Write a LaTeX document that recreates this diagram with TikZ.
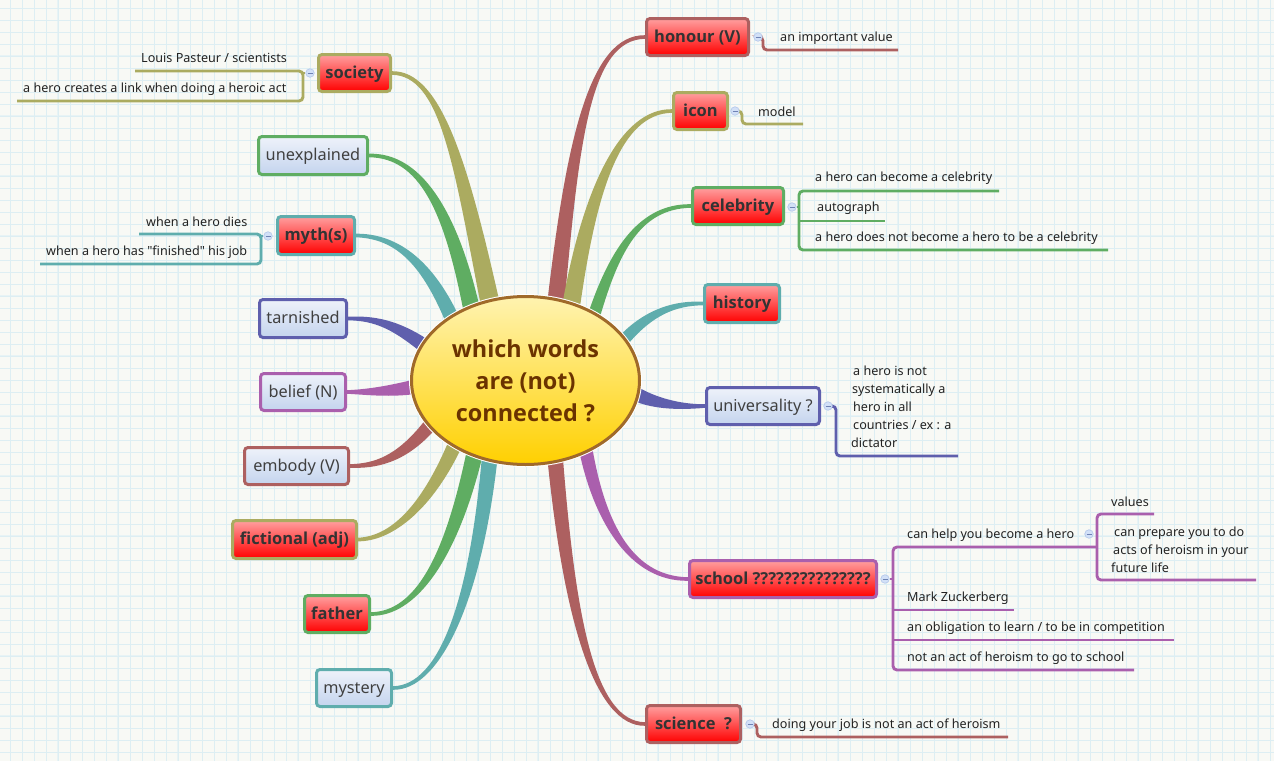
\documentclass[tikz,border=0pt]{standalone}
\usepackage{fontspec}
\setmainfont{Noto Sans}
\newfontfamily\headfont{Open Sans}
\newfontfamily\plainfont{Noto Sans}
\usetikzlibrary{calc,shapes.geometric}
\pgfdeclarelayer{under}
\pgfsetlayers{under,main}
\definecolor{cbg}{HTML}{F8F9F5}
\definecolor{cgrid}{HTML}{DDEEF3}
\definecolor{cgridb}{HTML}{E8F3F5}
\definecolor{cred}{HTML}{AD6060}
\definecolor{colive}{HTML}{ABAB60}
\definecolor{cgreen}{HTML}{5FAD62}
\definecolor{cteal}{HTML}{5FADAD}
\definecolor{cblue}{HTML}{5F5FAD}
\definecolor{cpurple}{HTML}{AA5FAD}
\definecolor{ctext}{HTML}{222222}
\definecolor{rootline}{HTML}{A06A2A}
\definecolor{roottop}{HTML}{FFF3B0}
\definecolor{rootbot}{HTML}{FFD000}
\definecolor{roottext}{HTML}{6B3300}
\definecolor{redtop}{HTML}{FFA0A0}
\definecolor{bluetop}{HTML}{EEF2FA}
\definecolor{bluebot}{HTML}{C4D4EE}
\definecolor{iconline}{HTML}{B7CAEC}
\definecolor{iconfill}{HTML}{D2E0F7}
\definecolor{iconbar}{HTML}{6E82B4}
\tikzset{
  x=1pt,y=-1pt,
  redbox/.style={draw=#1,line width=3pt,rounded corners=3.5pt,inner sep=0pt,top color=redtop,bottom color=red,text=black!80,font=\headfont\fontsize{16.5}{20}\selectfont\bfseries,text height=13pt,text depth=3pt},
  bluebox/.style={draw=#1,line width=3pt,rounded corners=3.5pt,inner sep=0pt,top color=bluetop,bottom color=bluebot,text=black!75,font=\fontsize{16.3}{20}\selectfont,text height=13pt,text depth=3pt},
  rootnode/.style={ellipse,draw=rootline,line width=3pt,inner sep=0pt,minimum width=228pt,minimum height=168pt,top color=roottop,bottom color=rootbot,text=roottext,align=center,font=\headfont\fontsize{23.4}{32}\selectfont\bfseries,preaction={draw=white,line width=5pt}},
  leaf/.style={anchor=west,inner sep=0pt,text=ctext,font=\fontsize{12.6}{18}\selectfont,text height=9.5pt,text depth=3pt,yshift=-1pt},
  leafblock/.style={anchor=north west,inner sep=0pt,text=ctext,font=\fontsize{12.6}{18}\selectfont,align=left},
  sub/.style={draw=#1,line width=2.9pt,rounded corners=4pt},
  foldicon/.style={circle,draw=iconline,fill=iconfill,line width=.7pt,minimum size=8.5pt,inner sep=0pt,
    path picture={\draw[iconbar,line width=.7pt] ([xshift=-2.5pt]path picture bounding box.center) -- ([xshift=2.5pt]path picture bounding box.center);}}
}
% colour, root angle 1, root angle 2, control 1, control 2, node anchor
\newcommand{\taper}[6]{%
  \coordinate (A1) at (root.#2);
  \coordinate (A2) at (root.#3);
  \coordinate (E0) at (#6);
  \fill[#1] (A1) .. controls ($(#4)+0.38*(A1)-0.38*(A2)$) and ($(#5)+(0,-2.6)$) .. ($(E0)+(0,-1.8)$)
     -- ($(E0)+(0,1.8)$) .. controls ($(#5)+(0,2.6)$) and ($(#4)-0.38*(A1)+0.38*(A2)$) .. (A2) -- cycle;
}
\begin{document}
\begin{tikzpicture}
\useasboundingbox (0,0) rectangle (1274,761);
\begin{pgfonlayer}{under}
\fill[cbg] (0,0) rectangle (1274,761);
\foreach \i in {0,...,22} \draw[cgridb,line width=1.8pt] (\i*60-2,0) -- (\i*60-2,761);
\foreach \i in {0,...,13} \draw[cgridb,line width=1.8pt] (0,\i*60-4) -- (1274,\i*60-4);
\foreach \i in {0,...,106} \draw[cgrid,line width=.6pt] (\i*12-2,0) -- (\i*12-2,761);
\foreach \i in {0,...,64} \draw[cgrid,line width=.6pt] (0,\i*12-4) -- (1274,\i*12-4);
\end{pgfonlayer}

\node[rootnode] (root) at (525.5,380.5) {\rule{0pt}{19pt}which words\\are (not)\\connected ?};

\node[redbox=colive,minimum width=72pt,minimum height=37pt] (society) at (354.5,73) {society};
\node[bluebox=cgreen,minimum width=109pt,minimum height=38pt] (unexplained) at (313,155.5) {unexplained};
\node[redbox=cteal,minimum width=77pt,minimum height=38pt] (myth) at (316,235.5) {myth(s)};
\node[bluebox=cblue,minimum width=87pt,minimum height=38pt] (tarnished) at (303,318.5) {tarnished};
\node[bluebox=cpurple,minimum width=85pt,minimum height=37pt] (belief) at (303,392) {belief (N)};
\node[bluebox=cred,minimum width=104pt,minimum height=37pt] (embody) at (296.5,466) {embody (V)};
\node[redbox=colive,minimum width=124pt,minimum height=38pt] (fictional) at (294.5,539.5) {fictional (adj)};
\node[redbox=cgreen,minimum width=65pt,minimum height=37pt] (father) at (337,614) {father};
\node[bluebox=cteal,minimum width=75pt,minimum height=37pt] (mystery) at (354,688) {mystery};
\node[redbox=cred,minimum width=102pt,minimum height=37pt] (honour) at (697.5,37) {honour (V)};
\node[redbox=colive,minimum width=54pt,minimum height=37pt] (icon) at (700.5,111) {icon};
\node[redbox=cgreen,minimum width=91pt,minimum height=37pt] (celebrity) at (738,206) {celebrity};
\node[redbox=cteal,minimum width=75pt,minimum height=38pt] (history) at (742,303.5) {history};
\node[bluebox=cblue,minimum width=113pt,minimum height=37pt] (universality) at (763,406) {universality ?};
\node[redbox=cpurple,minimum width=187pt,minimum height=37pt] (school) at (783,579) {school ???????????????};
\node[redbox=cred,minimum width=94pt,minimum height=37pt] (science) at (693.5,724) {science\ \ ?};

\node[foldicon] (isociety) at (310,73) {};
\node[foldicon] (imyth) at (268,236) {};
\node[foldicon] (ihonour) at (758,37) {};
\node[foldicon] (iicon) at (735,111) {};
\node[foldicon] (icelebrity) at (792,207) {};
\node[foldicon] (iuni) at (828,406) {};
\node[foldicon] (ischool) at (885,579) {};
\node[foldicon] (ihelp) at (1089,534) {};
\node[foldicon] (iscience) at (750,724) {};

\node[leaf] (t1) at (141,58) {Louis Pasteur / scientists};
\node[leaf] (t2) at (23,88) {a hero creates a link when doing a heroic act};
\node[leaf] (t3) at (146,222) {when a hero dies};
\node[leaf] (t4) at (46,251) {\plainfont when a hero has "finished" his job};
\node[leaf] (t5) at (780,37) {an important value};
\node[leaf] (t6) at (758,112) {model};
\node[leaf] (t7) at (815,177) {a hero can become a celebrity};
\node[leaf] (t8) at (817,207) {autograph};
\node[leaf] (t9) at (815,237) {a hero does not become a hero to be a celebrity};
\node[leafblock] (t10) at (851,366) {\hspace*{2pt}a hero is not\\\hspace*{1pt}systematically a\\\hspace*{2pt}hero in all\\\hspace*{2pt}countries / ex : a\\dictator};
\node[leaf] (t11) at (907,534) {can help you become a hero};
\node[leaf] (t12) at (907,597) {Mark Zuckerberg};
\node[leaf] (t13) at (907,627) {an obligation to learn / to be in competition};
\node[leaf] (t14) at (907,657) {not an act of heroism to go to school};
\node[leaf] (t15) at (1111,502) {values};
\node[leafblock] (t16) at (1111,527) {\hspace*{3pt}can prepare you to do\\\hspace*{2pt}acts of heroism in your\\future life};
\node[leaf] (t17) at (772,724) {doing your job is not an act of heroism};

\begin{pgfonlayer}{under}
\taper{cred}{75.1}{64.4}{573,140}{590,37}{honour.west}
\taper{colive}{65.6}{54.5}{590,190}{620,111}{icon.west}
\taper{cgreen}{48.8}{41}{615,250}{640,206}{celebrity.west}
\taper{cteal}{26.4}{20}{650,312}{675,303}{history.west}
\taper{cblue}{-4.6}{-11.6}{660,405}{685,407}{universality.west}
\taper{cpurple}{-46.6}{-54.5}{600,520}{630,579}{school.west}
\taper{cred}{-65}{-75.1}{570,620}{595,724}{science.west}
\taper{colive}{108.8}{120.2}{460,160}{440,73}{society.east}
\taper{cgreen}{121}{131.2}{450,210}{420,155}{unexplained.east}
\taper{cteal}{135.8}{143.6}{425,260}{395,236}{myth.east}
\taper{cblue}{157.8}{164.8}{395,325}{375,318}{tarnished.east}
\taper{cpurple}{180.2}{187}{385,392}{365,392}{belief.east}
\taper{cred}{202.8}{209.3}{400,460}{375,466}{embody.east}
\taper{colive}{219.6}{227.5}{425,510}{390,539}{fictional.east}
\taper{cgreen}{231.7}{241}{450,560}{415,614}{father.east}
\taper{cteal}{241.1}{251.4}{475,600}{440,688}{mystery.east}

\coordinate (e1) at (135,71); \coordinate (e2) at (17,101);
\coordinate (j1) at (303,71); \coordinate (c1) at (303,101);
\draw[sub=colive] (e1) -- (j1) -- (c1) -- (e2);
\draw[sub=colive] (isociety) -- (j1 |- isociety);

\coordinate (e3) at (139,234); \coordinate (e4) at (40,264);
\coordinate (j2) at (261,234); \coordinate (c2) at (261,264);
\draw[sub=cteal] (e3) -- (j2) -- (c2) -- (e4);
\draw[sub=cteal] (imyth) -- (j2 |- imyth);

\coordinate (j3) at (763,37); \coordinate (c3) at (763,50); \coordinate (e5) at (898,50);
\draw[sub=cred] (ihonour) -- (j3) -- (c3) -- (e5);

\coordinate (j4) at (742,111); \coordinate (c4) at (742,124); \coordinate (e6) at (803,124);
\draw[sub=colive] (iicon) -- (j4) -- (c4) -- (e6);

\coordinate (j5) at (799,191); \coordinate (c5) at (799,250);
\coordinate (e7) at (999,191); \coordinate (e8) at (885,221); \coordinate (e9) at (1108,250);
\draw[sub=cgreen] (e7) -- (j5) -- (c5) -- (e9);
\draw[sub=cgreen] (c5 |- e8) -- (e8);
\draw[sub=cgreen] (icelebrity) -- (j5 |- icelebrity);

\coordinate (j6) at (836,406); \coordinate (c6) at (836,456); \coordinate (e10) at (958,456);
\draw[sub=cblue] (iuni) -- (j6) -- (c6) -- (e10);

\coordinate (j7) at (893,547); \coordinate (c7) at (893,670);
\coordinate (e11) at (1014,610); \coordinate (e12) at (1174,640); \coordinate (e13) at (1134,670);
\coordinate (j8) at (1097,547); \coordinate (c8t) at (1097,514); \coordinate (c8b) at (1097,580);
\coordinate (e14) at (1154,514); \coordinate (e15) at (1256,580);
\draw[sub=cpurple] (j8) -- (j7) -- (c7) -- (e13);
\draw[sub=cpurple] (ischool) -- (j7 |- ischool);
\draw[sub=cpurple] (j7 |- e11) -- (e11);
\draw[sub=cpurple] (j7 |- e12) -- (e12);
\draw[sub=cpurple] (e14) -- (c8t) -- (c8b) -- (e15);

\coordinate (j9) at (757,724); \coordinate (c9) at (757,737); \coordinate (e16) at (1008,737);
\draw[sub=cred] (iscience) -- (j9) -- (c9) -- (e16);
\end{pgfonlayer}
\end{tikzpicture}
\end{document}
